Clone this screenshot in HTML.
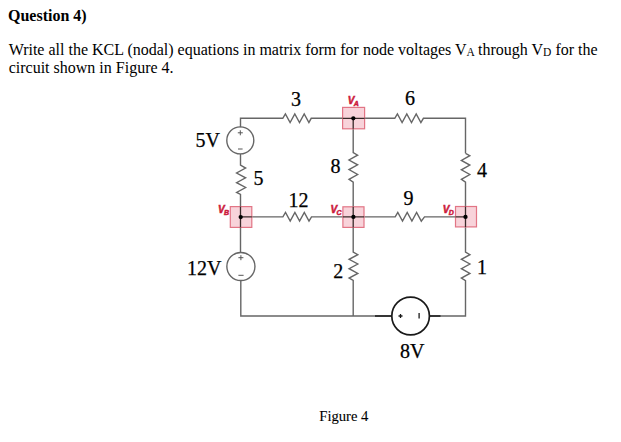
<!DOCTYPE html>
<html><head><meta charset="utf-8">
<style>
html,body{margin:0;padding:0;background:#fff;}
body{width:621px;height:442px;overflow:hidden;position:relative;font-family:"Liberation Serif",serif;color:#000;}
.t{position:absolute;white-space:nowrap;}
#q{left:8px;top:6px;font-size:16px;font-weight:bold;line-height:20px;}
#p{left:8.7px;top:41px;font-size:16px;line-height:18px;}
.sc{font-size:11.5px;line-height:0;vertical-align:-0.5px;}
svg{position:absolute;left:0;top:0;}
</style></head><body>
<div class="t" id="q">Question 4)</div>
<div class="t" id="p">Write all the KCL (nodal) equations in matrix form for node voltages V<span class="sc" style="margin-right:-0.9px">A</span> through V<span class="sc">D</span> for the<br>circuit shown in Figure 4.</div>
<svg width="621" height="442" viewBox="0 0 621 442">
<g fill="none" stroke="#666" stroke-width="1.4" stroke-linejoin="miter">
<!-- top wire -->
<path d="M240.5 127.2 V118.3 H282.8 L285.4 113.9 L290.1 122.5 L294.8 113.9 L299.5 122.5 L304.2 113.9 L308.9 122.5 L311.2 118.3 H394.8 L397.4 113.9 L402.1 122.5 L406.8 113.9 L411.5 122.5 L416.2 113.9 L420.9 122.5 L423.4 118.3 H465.5 V153.3"/>
<!-- right vertical zigzag 4 -->
<path d="M465.5 153.3 L469.8 155.7 L461.4 160.4 L469.8 165.1 L461.4 169.8 L469.8 174.5 L461.4 179.3 L465.5 182.1 V252.1 L469.9 254.7 L461.4 259.3 L469.9 264 L461.4 268.7 L469.9 273.4 L461.4 278.1 L465.5 280.6 V316 H430"/>
<!-- left vertical -->
<path d="M240.5 154 V165.2 L245.6 168.1 L236.6 173 L245.6 177.8 L236.6 182.7 L245.6 187.5 L236.6 192.4 L240.5 194.5 V252.3"/>
<path d="M240.8 280.8 V316 H391"/>
<!-- middle vertical -->
<path d="M353.2 118.3 V152.6 L357.6 155.2 L349 160 L357.6 164.8 L349 169.6 L357.6 174.5 L349 179.3 L353.2 182.2 V252.1 L357.8 254.7 L349.1 259.3 L357.8 264 L349.1 268.7 L357.8 273.4 L349.1 278.1 L353.2 280.4 V316"/>
<!-- middle horizontal -->
<path d="M240.5 216.9 H282.9 L285.5 212.5 L290.2 221.1 L294.9 212.5 L299.6 221.1 L304.3 212.5 L309 221.1 L311.5 216.9 H395.2 L397.8 212.5 L402.5 221.1 L407.2 212.5 L411.9 221.1 L416.6 212.5 L421.3 221.1 L424.5 216.9 H465.5"/>
<!-- sources -->
<circle cx="240.3" cy="140.4" r="13.5"/>
<circle cx="240.9" cy="266.5" r="14.05"/>
</g>
<g stroke="#555" stroke-width="1" fill="none">
<path d="M237.8 132.8 H242.8 M240.3 130.3 V135.3 M238 149 H242.6"/>
<path d="M238.4 257.7 H243.4 M240.9 255.2 V260.2 M238.4 275.3 H243.6"/>
</g>
<!-- 8V source -->
<g stroke="#1a1a1a" fill="none">
<path d="M375 316 H391.6 M429.4 316 H440.5" stroke-width="1.6"/>
<circle cx="410.6" cy="316" r="18.8" stroke-width="1.7"/>
<path d="M398.5 316 H402.5 M400.5 314 V318 M419.1 313 V318.5" stroke-width="1.3"/>
</g>
<!-- red boxes -->
<g fill="#f8d3da" stroke="#e27585" stroke-width="1.2">
<rect x="342.6" y="107.4" width="22" height="21.4"/>
<rect x="230.3" y="206.6" width="21.5" height="20.8"/>
<rect x="342.9" y="206.8" width="21.1" height="20.6"/>
<rect x="455.5" y="206.5" width="21" height="20.4"/>
</g>
<!-- wires over boxes -->
<g stroke="#3a2a2a" stroke-width="1.3" fill="none">
<path d="M342.6 118.3 H364.6 M353.2 118.3 V128.8"/>
<path d="M240.5 206.6 V227.4 M240.5 216.9 H251.8"/>
<path d="M353.2 206.8 V227.4 M342.9 216.9 H364"/>
<path d="M465.5 206.5 V226.9 M455.5 216.9 H465.5"/>
</g>
<g fill="#000">
<circle cx="353.3" cy="118.3" r="2.15"/>
<circle cx="240.7" cy="217.1" r="2.15"/>
<circle cx="353.4" cy="216.9" r="2.15"/>
<circle cx="465.5" cy="216.9" r="2.15"/>
</g>
<!-- red labels -->
<g fill="#cc1a3c" stroke="#cc1a3c" stroke-width="0.5" font-family="Liberation Sans" font-weight="bold" font-style="italic" font-size="10">
<text x="347.8" y="103.5">V<tspan font-size="7" dx="-0.7" dy="2.4">A</tspan></text>
<text x="218.1" y="213">V<tspan font-size="7" dx="-0.7" dy="2">B</tspan></text>
<text x="330.5" y="212.6">V<tspan font-size="7" dx="-0.7" dy="2.7">C</tspan></text>
<text x="442.7" y="212.8">V<tspan font-size="7" dx="-0.7" dy="2.1">D</tspan></text>
</g>
<!-- value labels -->
<g fill="#000" stroke="#000" stroke-width="0.25" font-family="Liberation Serif" font-size="20">
<text x="291" y="105.5">3</text>
<text x="405" y="105">6</text>
<text x="195.5" y="147">5V</text>
<text x="253.5" y="185">5</text>
<text x="330.5" y="173">8</text>
<text x="477" y="177">4</text>
<text x="288.5" y="207">12</text>
<text x="403.5" y="205">9</text>
<text x="187" y="275">12V</text>
<text x="333.3" y="277.6">2</text>
<text x="477" y="273.5">1</text>
<text x="400" y="357.6">8V</text>
<text x="319.3" y="420.7" font-size="14.6" stroke-width="0.1">Figure 4</text>
</g>
</svg>
</body></html>
